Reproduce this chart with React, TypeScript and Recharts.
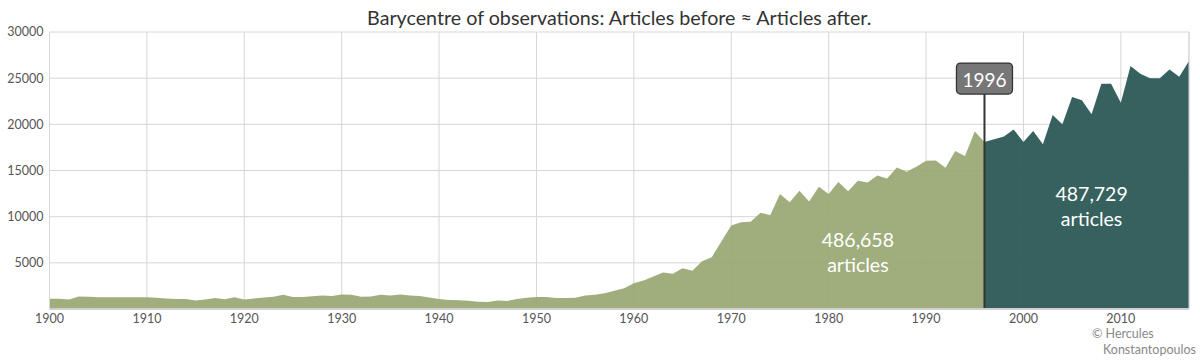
import React from "react";
import {
  ComposedChart,
  Area,
  XAxis,
  YAxis,
  CartesianGrid,
  ReferenceLine,
  ReferenceDot,
} from "recharts";

const years = [
  1900, 1901, 1902, 1903, 1904, 1905, 1906, 1907, 1908, 1909,
  1910, 1911, 1912, 1913, 1914, 1915, 1916, 1917, 1918, 1919,
  1920, 1921, 1922, 1923, 1924, 1925, 1926, 1927, 1928, 1929,
  1930, 1931, 1932, 1933, 1934, 1935, 1936, 1937, 1938, 1939,
  1940, 1941, 1942, 1943, 1944, 1945, 1946, 1947, 1948, 1949,
  1950, 1951, 1952, 1953, 1954, 1955, 1956, 1957, 1958, 1959,
  1960, 1961, 1962, 1963, 1964, 1965, 1966, 1967, 1968, 1969,
  1970, 1971, 1972, 1973, 1974, 1975, 1976, 1977, 1978, 1979,
  1980, 1981, 1982, 1983, 1984, 1985, 1986, 1987, 1988, 1989,
  1990, 1991, 1992, 1993, 1994, 1995, 1996, 1997, 1998, 1999,
  2000, 2001, 2002, 2003, 2004, 2005, 2006, 2007, 2008, 2009,
  2010, 2011, 2012, 2013, 2014, 2015, 2016, 2017,
];

const articles = [
  1100, 1100, 1040, 1360, 1330, 1270, 1270, 1270, 1260, 1260,
  1260, 1220, 1130, 1080, 1080, 930, 1030, 1180, 1060, 1260,
  1020, 1130, 1250, 1320, 1540, 1300, 1300, 1370, 1470, 1420,
  1560, 1540, 1330, 1360, 1540, 1450, 1560, 1450, 1400, 1250,
  1070, 970, 960, 890, 790, 750, 930, 880, 1070, 1220,
  1290, 1290, 1180, 1180, 1220, 1470, 1540, 1700, 1990, 2260,
  2800, 3090, 3520, 3950, 3810, 4420, 4130, 5180, 5610, 7340,
  9030, 9390, 9460, 10430, 10140, 12450, 11550, 12810, 11650, 13240,
  12450, 13750, 12740, 13890, 13710, 14470, 14140, 15330, 14860, 15400,
  16050, 16080, 15290, 17100, 16560, 19220, 18100, 18390, 18680, 19430,
  18100, 19290, 17850, 21020, 20010, 22960, 22600, 21090, 24400, 24400,
  22350, 26310, 25480, 24980, 24980, 25950, 25150, 26850,
];

const splitYear = 1996;
const xTicks = [1900, 1910, 1920, 1930, 1940, 1950, 1960, 1970, 1980, 1990, 2000, 2010];
const yTicks = [5000, 10000, 15000, 20000, 25000, 30000];
const beforeLabel = ["486,658", "articles"];
const afterLabel = ["487,729", "articles"];
const beforeLabelPos = { year: 1983, value: 6170 };
const afterLabelPos = { year: 2007, value: 11135 };
const markerPos = { value: 24960, lineTop: 23317 };

const data = years.map((year, i) => ({
  year,
  before: year <= splitYear ? articles[i] : null,
  after: year >= splitYear ? articles[i] : null,
}));

const FONT = "Lato, 'Open Sans', sans-serif";

const TwoLineLabel = (lines: string[]) => (props: any) => {
  const { cx, cy } = props;
  return (
    <g>
      <text x={cx} y={cy - 12.5} textAnchor="middle" dominantBaseline="central" fill="#ffffff" fontSize={19.5} fontFamily={FONT}>
        {lines[0]}
      </text>
      <text x={cx} y={cy + 12.5} textAnchor="middle" dominantBaseline="central" fill="#ffffff" fontSize={19.5} fontFamily={FONT}>
        {lines[1]}
      </text>
    </g>
  );
};

const YearBox = (props: any) => {
  const { cx, cy } = props;
  return (
    <g>
      <rect x={cx - 28} y={cy - 15.5} width={56} height={31} rx={4} ry={4} fill="#777777" stroke="#333333" strokeWidth={1.3} />
      <text x={cx} y={cy + 0.5} textAnchor="middle" dominantBaseline="central" fill="#ffffff" fontSize={19} fontFamily={FONT}>
        {String(splitYear)}
      </text>
    </g>
  );
};

export default function App() {
  return (
    <div style={{ position: "absolute", left: 0, top: 0, width: 1200, height: 364, background: "#fff", fontFamily: FONT }}>
      <div
        style={{
          position: "absolute",
          left: 49.5,
          width: 1139.5,
          top: 5,
          textAlign: "center",
          fontSize: 19.7,
          color: "#333",
          lineHeight: "26px",
        }}
      >
        Barycentre of observations: Articles before ≈ Articles after.
      </div>
      <ComposedChart
        width={1200}
        height={364}
        data={data}
        margin={{ top: 32, right: 11, bottom: 25, left: 0 }}
      >
        <CartesianGrid stroke="#d6d6d6" strokeWidth={1} vertical={true} horizontal={true} />
        <XAxis
          type="number"
          dataKey="year"
          domain={[1900, 2017]}
          ticks={xTicks}
          height={30}
          tickSize={0}
          tickMargin={5}
          axisLine={{ stroke: "#d0d0d0", strokeWidth: 2 }}
          tick={{ fill: "#555", fontSize: 12.5, fontFamily: FONT }}
          allowDataOverflow
        />
        <YAxis
          type="number"
          domain={[0, 30000]}
          ticks={yTicks}
          width={49.5}
          tickSize={0}
          tickMargin={6}
          axisLine={{ stroke: "#d6d6d6" }}
          tick={{ fill: "#555", fontSize: 12.5, fontFamily: FONT }}
          interval={0}
        />
        <ReferenceLine x={2017} stroke="#d6d6d6" />
        <Area
          type="linear"
          dataKey="before"
          stroke="none"
          fill="#98a872"
          fillOpacity={0.93}
          isAnimationActive={false}
          connectNulls={false}
          dot={false}
          activeDot={false}
        />
        <Area
          type="linear"
          dataKey="after"
          stroke="none"
          fill="#2b5955"
          fillOpacity={0.95}
          isAnimationActive={false}
          connectNulls={false}
          dot={false}
          activeDot={false}
        />
        <ReferenceLine
          segment={[
            { x: splitYear, y: 0 },
            { x: splitYear, y: markerPos.lineTop },
          ]}
          stroke="#333333"
          strokeWidth={2}
        />
        <ReferenceDot x={splitYear} y={markerPos.value} shape={YearBox} />
        <ReferenceDot x={beforeLabelPos.year} y={beforeLabelPos.value} shape={TwoLineLabel(beforeLabel)} />
        <ReferenceDot x={afterLabelPos.year} y={afterLabelPos.value} shape={TwoLineLabel(afterLabel)} />
      </ComposedChart>
      <div style={{ position: "absolute", left: 1092, top: 326, fontSize: 12.5, color: "#888", lineHeight: "16px", whiteSpace: "nowrap" }}>
        © Hercules
      </div>
      <div style={{ position: "absolute", left: 1103, top: 342, fontSize: 12.5, color: "#888", lineHeight: "16px", whiteSpace: "nowrap" }}>
        Konstantopoulos
      </div>
    </div>
  );
}
